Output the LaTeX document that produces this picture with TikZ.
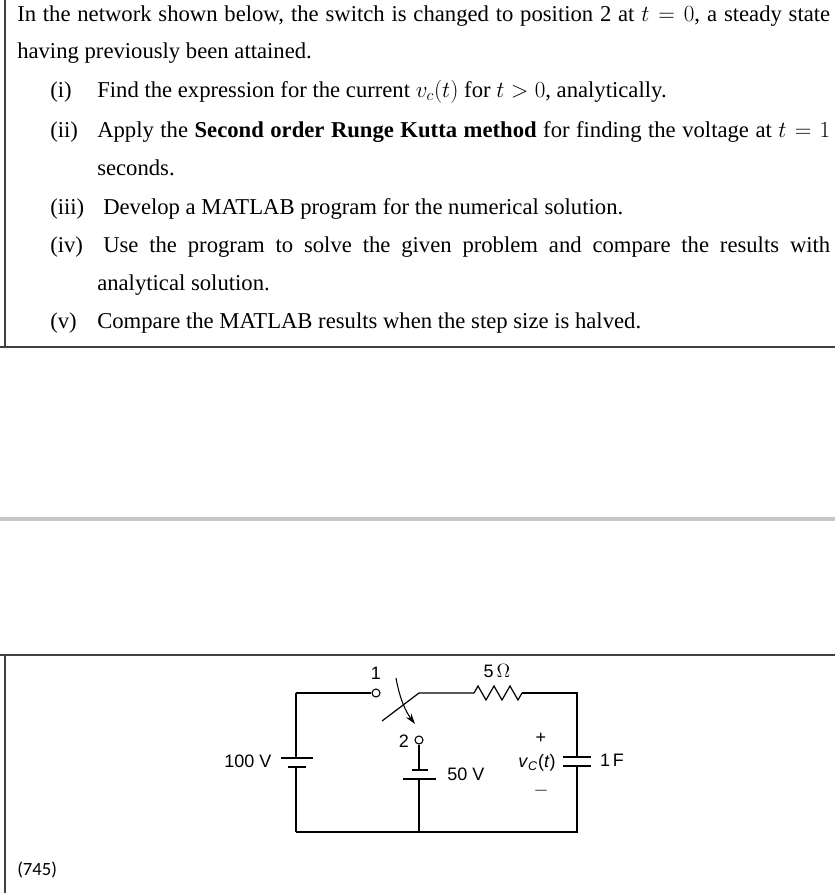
\documentclass[tikz,border=0pt]{standalone}
\usepackage{fontspec}
\setmainfont{Liberation Serif}
\newfontfamily\arial{Liberation Sans}
\newfontfamily\carl{Carlito}
\usetikzlibrary{arrows.meta}
\begin{document}
\begin{tikzpicture}[x=0.75pt,y=-0.75pt,
  txt/.style={anchor=base west,inner sep=0,font=\fontsize{17}{20}\selectfont},
  ckt/.style={inner sep=0,font=\arial\fontsize{13.5}{16}\selectfont},
  wire/.style={line width=0.9pt,black},
  term/.style={draw,circle,inner sep=0,minimum size=6pt,line width=0.8pt,fill=white},
  rule/.style={line width=1.1pt,black!75}]
\useasboundingbox (0,0) rectangle (835,893);
% frame lines
\draw[rule] (5,0) -- (5,347);
\draw[rule] (0,347) -- (835,347);
\draw[line width=3pt,black!22] (0,519) -- (835,519);
\draw[rule] (0,655) -- (835,655);
\draw[rule] (5,655) -- (5,893);
% text
\node[txt] (l1) at (17,21) {\makebox[609.75pt][s]{In the network shown below, the switch is changed to position 2 at $t=0$, a steady state}};
\node[txt] (l2) at (17,58) {having previously been attained.};
\node[txt] (i1) at (50,97) {(i)};
\node[txt] (t1) at (97,97) {Find the expression for the current $v_c(t)$ for $t>0$, analytically.};
\node[txt] (i2) at (50,137) {(ii)};
\node[txt] (t2) at (97,137) {\makebox[549.75pt][s]{Apply the \textbf{Second order Runge Kutta method} for finding the voltage at $t=1$}};
\node[txt] (t2b) at (97,175) {seconds.};
\node[txt] (i3) at (50,214) {(iii)};
\node[txt] (t3) at (103,214) {Develop a MATLAB program for the numerical solution.};
\node[txt] (i4) at (50,252) {(iv)};
\node[txt] (t4) at (103,252) {\makebox[545.25pt][s]{Use the program to solve the given problem and compare the results with}};
\node[txt] (t4b) at (97,290) {analytical solution.};
\node[txt] (i5) at (50,328) {(v)};
\node[txt] (t5) at (97,328) {Compare the MATLAB results when the step size is halved.};
\node[anchor=west,inner sep=0,font=\carl\fontsize{14}{16}\selectfont] (num) at (17,870) {(745)};
% circuit coordinates
\coordinate (TL) at (296,693);
\coordinate (BL) at (296,832);
\coordinate (BM) at (419,832);
\coordinate (BR) at (577,832);
\coordinate (TR) at (577,693);
\coordinate (S) at (419,693);
\coordinate (Bl) at (382,721);
\coordinate (R1) at (474,693);
\coordinate (R2) at (522,693);
% left battery
\draw[wire] (TL) -- (296,758);
\draw[wire] (281,758) -- (313,758);
\draw[wire] (288,767) -- (306,767);
\draw[wire] (296,767) -- (BL);
% bottom
\draw[wire] (BL) -- (BM) -- (BR) -- (577,766);
\draw[wire] (563,766) -- (591,766);
\draw[wire] (563,757) -- (591,757);
\draw[wire] (577,757) -- (TR) -- (R2);
\draw[wire] (R2) -- (518,700) -- (510,686) -- (502,700) -- (494,686) -- (486,700) -- (478,686) -- (R1);
\draw[wire] (R1) -- (S) -- (Bl);
\node[term] (T1) at (376,693) {};
\node[term] (T2) at (419,740) {};
\draw[wire] (TL) -- (T1.west);
% middle battery
\draw[wire] (T2.south) -- (419,770);
\draw[wire] (412,770) -- (428,770);
\draw[wire] (403,779) -- (436,779);
\draw[wire] (419,779) -- (BM);
% switch arrow
\draw[line width=0.8pt,-{Stealth[length=8pt,width=5pt]}] (396,678) .. controls (400,700) and (406,712) .. (415,724);
% labels
\node[ckt] (n1) at (376,673) {1};
\node[ckt] (n5) at (497,671) {5\,$\Omega$};
\node[ckt] (n2) at (404,741) {2};
\node[ckt] (n100) at (248,761) {100 V};
\node[ckt] (n50) at (466,774) {50 V};
\node[ckt] (np) at (541,738) {+};
\node[ckt] (nv) at (537,763) {\textit{v}\textsubscript{\textit{C}}(\textit{t})};
\node[ckt] (nm) at (541,791) {$-$};
\node[ckt] (nF) at (612,760) {1\,F};
\end{tikzpicture}
\end{document}
